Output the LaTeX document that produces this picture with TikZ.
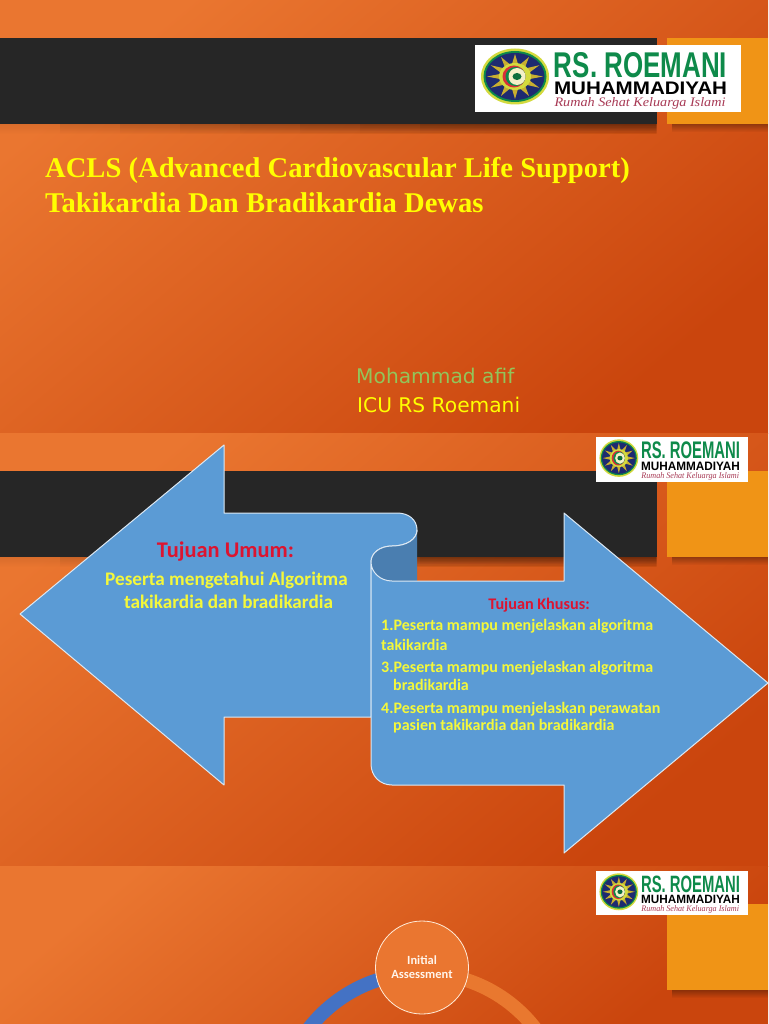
\documentclass[tikz,border=0pt]{standalone}
\usepackage{graphicx}
\usepackage{fontspec}
\setmainfont{Carlito}
\newfontfamily\titlefont{Liberation Serif}
\newfontfamily\namefont{DejaVu Sans}
\newfontfamily\logofont{Liberation Sans}
\usetikzlibrary{calc, fadings}

\definecolor{slidelight}{HTML}{EA7630}
\definecolor{slidedark}{HTML}{CA450D}
\definecolor{barblack}{HTML}{262626}
\definecolor{tabgold}{HTML}{F09416}
\definecolor{arrowblue}{HTML}{5B9BD5}
\definecolor{foldblue}{HTML}{4A7EB0}
\definecolor{edgeblue}{HTML}{DCE8F3}
\definecolor{titleyellow}{HTML}{FFFF00}
\definecolor{textyellow}{HTML}{F4F83A}
\definecolor{headred}{HTML}{DC1430}
\definecolor{namegreen}{HTML}{92C55A}
\definecolor{logogreen}{HTML}{0E8A4A}
\definecolor{logoring}{HTML}{D3DA3E}
\definecolor{logonavy}{HTML}{1E2A70}
\definecolor{logogold}{HTML}{C8AE30}
\definecolor{logored}{HTML}{A83A55}
\definecolor{logocrescent}{HTML}{D8303A}
\definecolor{logocream}{HTML}{F4F0C8}
\definecolor{cycleblue}{HTML}{4472C4}
\definecolor{cycleorange}{HTML}{E9782F}

% logo: x, y, xscale, yscale, prefix
\newcommand{\roemanilogo}[5]{
	\begin{scope}[shift={(#1,#2)}, xscale=#3, yscale=#4, transform shape]
		\fill[white] (0,0) rectangle (266,67);
		\fill[logoring] (40,31.5) ellipse (34 and 28);
		\fill[logogreen] (40,31.5) ellipse (31.5 and 25.5);
		\fill[logonavy] (40,31.5) ellipse (29.5 and 23.5);
		\foreach \a in {0,30,...,330} {
			\fill[logogold] ($(40,31.5)+(\a:28 and 22.5)$) -- ($(40,31.5)+(\a+14:14 and 11.5)$) -- ($(40,31.5)+(\a-14:14 and 11.5)$) -- cycle;
		}
		\fill[logoring] (40,31.5) ellipse (16 and 13.5);
		\fill[logocrescent] (39,31.5) ellipse (11.5 and 11);
		\fill[logogreen] (40.5,31.5) ellipse (10 and 9.5);
		\fill[logocream] (42,31.5) ellipse (8.5 and 8.5);
		\fill[logogreen!80!black] (42,31.5) ellipse (4.5 and 3.5);
		\node[inner sep=0pt, text=logogreen] (#5name) at (165.5,20.5) {\resizebox{173pt}{25pt}{\logofont\bfseries RS. ROEMANI}};
		\node[inner sep=0pt, text=black] (#5org) at (165.5,43.5) {\resizebox{173pt}{12.5pt}{\logofont\bfseries MUHAMMADIYAH}};
		\node[inner sep=0pt, text=logored] (#5motto) at (165,58.5) {\resizebox{171pt}{9pt}{\titlefont\itshape Rumah Sehat Keluarga Islami}};
	\end{scope}
}

\begin{document}
\begin{tikzpicture}[x=1pt, y=-1pt]
	% Define styles
	\tikzset{
		slide/.style={top color=slidelight, bottom color=slidedark, shading angle=40},
		bar/.style={fill=barblack},
		tab/.style={fill=tabgold},
		barshadow/.style={fill=black, opacity=.3, path fading=south},
		softshadow/.style={fill=black, opacity=.07, path fading=south},
		blockarrow/.style={fill=arrowblue, draw=edgeblue, line width=1pt, line join=round},
		ring/.style={line width=14pt},
		titletext/.style={anchor=base west, inner sep=0pt, text=titleyellow, font=\titlefont\bfseries\fontsize{28.6}{32}\selectfont},
		nametext/.style={anchor=base west, inner sep=0pt, font=\namefont\fontsize{20.2}{24}\selectfont},
		headtext/.style={inner sep=0pt, text=headred},
		bodytext/.style={inner sep=0pt, text=textyellow, font=\bfseries\fontsize{19.2}{22}\selectfont},
		pointtext/.style={anchor=west, inner sep=0pt, text=textyellow, font=\bfseries\fontsize{16}{18}\selectfont},
		stage/.style={circle, draw=white!85!orange, line width=.8pt, fill=slidelight, minimum size=93pt, inner sep=0pt, align=center, text=white!92!orange, font=\bfseries\fontsize{12.5}{14}\selectfont}
	}
	\clip (0,0) rectangle (768,1024);

	% Slide backgrounds
	\shade[slide] (0,0) rectangle (768,433);
	\shade[slide] (0,433) rectangle (768,866);
	\shade[slide] (0,866) rectangle (768,1024);

	% Bars and tabs
	\foreach \sx in {0,60,...,420} {
		\fill[softshadow] (\sx,124) rectangle (657,134);
		\fill[softshadow] (\sx,557) rectangle (657,567);
	}
	\fill[barshadow] (672,124) rectangle (768,132);
	\fill[bar] (0,38) rectangle (657,124);
	\fill[tab] (667,38) rectangle (768,124);

	\fill[barshadow] (672,557) rectangle (768,565);
	\fill[bar] (0,471) rectangle (657,557);
	\fill[tab] (667,471) rectangle (768,557);

	\fill[barshadow] (672,990) rectangle (768,998);
	\fill[tab] (667,904) rectangle (768,990);

	% Logos
	\roemanilogo{475}{45}{1}{1}{first}
	\roemanilogo{596}{437}{.571}{.67}{second}
	\roemanilogo{596}{871}{.571}{.66}{third}

	% Title slide
	\node[titletext] (title1) at (45,177.3) {ACLS (Advanced Cardiovascular Life Support)};
	\node[titletext] (title2) at (45,212.2) {Takikardia Dan Bradikardia Dewas};
	\node[nametext, text=namegreen] (presenter) at (356,383) {Mohammad afif};
	\node[nametext, text=titleyellow] (unit) at (357,412) {ICU RS Roemani};

	% Scroll arrows
	\path[blockarrow] (20,614) -- (224,445) -- (224,513) -- (397,513)
		.. controls (409,513) and (417,520) .. (417,530)
		.. controls (417,539) and (407,546) .. (392,546)
		.. controls (380,546) and (371,553) .. (371,562)
		-- (371,717) -- (224,717) -- (224,785) -- cycle;
	\fill[foldblue] (417,530)
		.. controls (417,539) and (407,546) .. (392,546)
		.. controls (380,546) and (371,553) .. (371,562)
		.. controls (371,572) and (380,581) .. (392,581)
		-- (417,581) -- cycle;
	\path[blockarrow] (371,562)
		.. controls (371,572) and (380,581) .. (392,581)
		-- (564,581) -- (564,513) -- (768,683) -- (564,853) -- (564,785) -- (392,785)
		.. controls (380,785) and (371,776) .. (371,764) -- cycle;
	\draw[edgeblue, line width=1pt] (417,530)
		.. controls (417,539) and (407,546) .. (392,546)
		.. controls (380,546) and (371,553) .. (371,562);

	% Arrow texts
	\node[headtext, font=\bfseries\fontsize{22.4}{26}\selectfont] (umum) at (225.5,552) {Tujuan Umum:};
	\node[bodytext] (umum1) at (226.5,580.5) {Peserta mengetahui Algoritma};
	\node[bodytext] (umum2) at (228.5,601.5) {takikardia dan bradikardia};

	\node[headtext, font=\bfseries\fontsize{16.2}{18}\selectfont] (khusus) at (539,605) {Tujuan Khusus:};
	\node[pointtext] (khusus1) at (381,626.5) {1.Peserta mampu menjelaskan algoritma};
	\node[pointtext] (khusus1b) at (381,644.5) {takikardia};
	\node[pointtext] (khusus3) at (381,668) {3.Peserta mampu menjelaskan algoritma};
	\node[pointtext] (khusus3b) at (393,685) {bradikardia};
	\node[pointtext] (khusus4) at (381,709) {4.Peserta mampu menjelaskan perawatan};
	\node[pointtext] (khusus4b) at (393,726) {pasien takikardia dan bradikardia};

	% Cycle slide
	\coordinate (hub) at (422,1116);
	\draw[ring, cycleblue] (hub) ++(-90:143) arc (-90:-150:143);
	\draw[ring, cycleorange] (hub) ++(-90:143) arc (-90:-30:143);
	\node[stage] (initial) at (422,967.5) {Initial\\Assessment};
\end{tikzpicture}
\end{document}
